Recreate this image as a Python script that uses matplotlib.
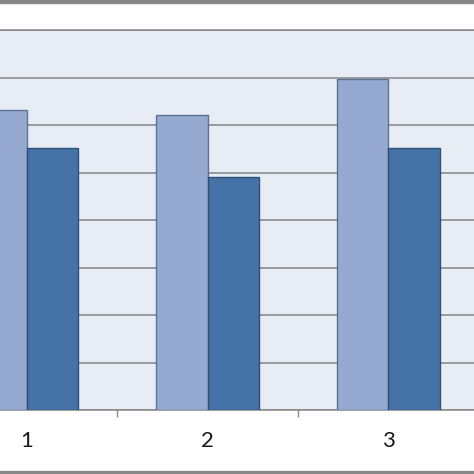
import matplotlib
matplotlib.use("Agg")
import matplotlib.pyplot as plt
import numpy as np

categories = ["1", "2", "3"]
series_a = [6.32, 6.21, 6.97]
series_b = [5.52, 4.91, 5.52]

light = "#95A9D1"
dark = "#4572A7"

fig = plt.figure(figsize=(4.74, 4.74), dpi=100)
fig.patch.set_facecolor("white")
ax = fig.add_axes([0, 64/474, 1, 380/474])
ax.set_facecolor("#E8ECF4")

x = np.arange(len(categories))
w = 0.285
ax.bar(x - w/2, series_a, width=w, color=light, edgecolor="#5B7196", linewidth=1.0, zorder=3)
ax.bar(x + w/2, series_b, width=w, color=dark, edgecolor="#2F4F78", linewidth=1.0, zorder=3)

ax.set_xlim(-0.149, 2.474)
ax.set_ylim(0, 8)
ax.set_yticks(np.arange(0, 9, 1))
ax.yaxis.grid(True, color="#8C8C8C", linewidth=1.2, zorder=1)
ax.tick_params(axis="y", left=False, labelleft=False)
ax.set_xticks([0.5, 1.5])
ax.set_xticklabels([])
ax.tick_params(axis="x", length=5, width=1, color="#8C8C8C", direction="out")
for i, c in enumerate(categories):
    ax.text(i, -0.65, c, ha="center", va="center", fontsize=16, family="Lato", color="#1A1A1A")
for s in ["left", "right"]:
    ax.spines[s].set_visible(False)
ax.spines["bottom"].set_color("#8C8C8C")
ax.spines["bottom"].set_linewidth(1.2)
ax.spines["top"].set_color("#8C8C8C")
ax.spines["top"].set_linewidth(1.2)

# outer frame bands at the top and bottom
fig.add_artist(plt.Rectangle((0, 1 - 3/474), 1, 3/474, transform=fig.transFigure, color="#888888"))
fig.add_artist(plt.Rectangle((0, 0), 1, 3/474, transform=fig.transFigure, color="#888888"))

fig.savefig("out.png", dpi=100)
